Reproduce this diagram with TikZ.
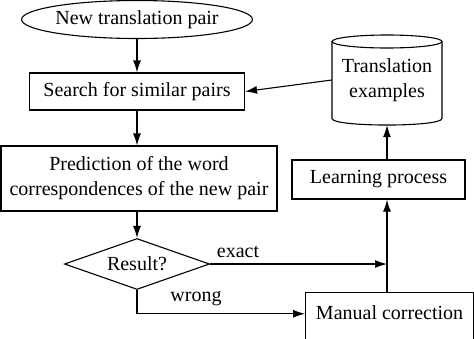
\documentclass[tikz,border=0pt]{standalone}
\usepackage{fontspec}
\setmainfont{Liberation Serif}
\usetikzlibrary{shapes.geometric,arrows.meta}
\begin{document}
\begin{tikzpicture}[x=1pt,y=-1pt,
  every node/.style={font=\fontsize{20}{25}\selectfont},
  line/.style={line width=1.1pt},
  arr/.style={line, -{Latex[length=12pt,width=8pt]}},
  box/.style={draw, line width=1.1pt, rectangle, inner sep=0pt, align=center},
]
\useasboundingbox (0,0) rectangle (474,338);
\clip (0,0) rectangle (474,338);
\node[draw, ellipse, line, minimum width=222pt, minimum height=38pt, inner sep=0pt] (new) at (137,19.5) {New translation pair};
\node[box, minimum width=215pt, minimum height=37pt] (search) at (137,91.5) {Search for similar pairs};
\node[box, minimum width=276pt, minimum height=65pt] (pred) at (139,178.5) {Prediction of the word\\correspondences of the new pair};
\node[draw, diamond, line, aspect=2.84, minimum width=145pt, minimum height=51pt, inner sep=0pt] (dia) at (137,264) {Result?};
\node[minimum width=110pt, minimum height=90pt, inner sep=0pt, align=center] (cyl) at (387,80) {Translation\\examples};
\draw[line] (387,41.5) ellipse [x radius=55, y radius=6.5];
\draw[line] (332,41.5) -- (332,118.5) .. controls (332,127.2) and (442,127.2) .. (442,118.5) -- (442,41.5);
\node[box, minimum width=173pt, minimum height=39pt] (learn) at (378.5,179.5) {Learning process};
\node[draw, line, anchor=north west, minimum width=168pt, text height=15pt, text depth=25pt, inner xsep=0pt, inner ysep=12pt] (manual) at (305,292) {Manual correction};
\node (lex) at (238,252) {exact};
\node (lwr) at (196,299) {wrong};
\draw[arr] (new.south) -- (search.north);
\draw[arr] (search.south) -- (search.south |- pred.north);
\draw[arr] (search.south |- pred.south) -- (dia.north);
\draw[arr] (cyl.west) -- (search.east);
\draw[arr] (cyl.south |- learn.north) -- (cyl.south);
\draw[arr] (cyl.south |- manual.north) -- (cyl.south |- learn.south);
\draw[arr] (dia.east) -- (dia.east -| cyl.south);
\draw[arr] (dia.south) |- ([yshift=3.5pt]manual.mid west);
\end{tikzpicture}
\end{document}
